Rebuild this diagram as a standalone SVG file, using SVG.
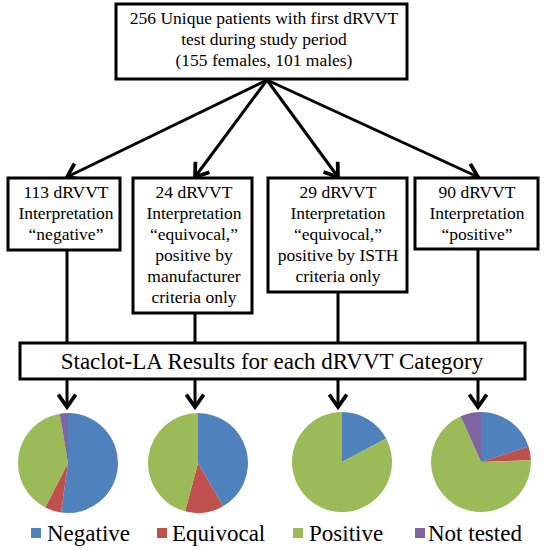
<svg xmlns="http://www.w3.org/2000/svg" width="550" height="550" viewBox="0 0 550 550">
<defs>
<style>
.box{fill:#fff;stroke:#000;stroke-width:3}
.t{font-size:17.5px;fill:#000;text-anchor:middle}
.big{font-size:23px;fill:#000}
.c{fill:none;stroke:#000;stroke-width:3}
.neg{fill:#4F81BD}.eq{fill:#C0504D}.pos{fill:#9BBB59}.nt{fill:#8064A2}
</style>
<marker id="ah" markerUnits="userSpaceOnUse" markerWidth="20" markerHeight="20" viewBox="-12 -8 14 16" refX="0" refY="0" orient="auto">
<path d="M-10,-7 L0,0 L-10,7" fill="none" stroke="#000" stroke-width="3"/>
</marker>
</defs>
<rect width="550" height="550" fill="#fff"/>
<g id="connectors">
<line class="c" x1="267" y1="80" x2="67" y2="177" marker-end="url(#ah)"/>
<line class="c" x1="267" y1="80" x2="195" y2="177" marker-end="url(#ah)"/>
<line class="c" x1="267" y1="80" x2="338" y2="177" marker-end="url(#ah)"/>
<line class="c" x1="267" y1="80" x2="478" y2="177" marker-end="url(#ah)"/>
<line class="c" x1="67" y1="250" x2="67" y2="343"/>
<line class="c" x1="195" y1="313" x2="195" y2="343"/>
<line class="c" x1="338" y1="292" x2="338" y2="343"/>
<line class="c" x1="478" y1="249" x2="478" y2="343"/>
<line class="c" x1="67" y1="379" x2="67" y2="407" marker-end="url(#ah)"/>
<line class="c" x1="195" y1="379" x2="195" y2="407" marker-end="url(#ah)"/>
<line class="c" x1="338" y1="379" x2="338" y2="407" marker-end="url(#ah)"/>
<line class="c" x1="478" y1="379" x2="478" y2="407" marker-end="url(#ah)"/>
</g>
<g font-family="Liberation Serif, Times New Roman, FreeSerif, Nimbus Roman, DejaVu Serif, serif">
<g id="top">
<rect class="box" x="116" y="4" width="291" height="75"/>
<text class="t" x="264" y="24">256 Unique patients with first dRVVT</text>
<text class="t" x="264" y="45">test during study period</text>
<text class="t" x="264" y="66">(155 females, 101 males)</text>
</g>
<g id="neg">
<rect class="box" x="8" y="178" width="112" height="72"/>
<text class="t" x="66" y="198">113 dRVVT</text>
<text class="t" x="66" y="219">Interpretation</text>
<text class="t" x="66" y="240">“negative”</text>
</g>
<g id="eqmfr">
<rect class="box" x="133" y="178" width="119" height="135"/>
<text class="t" x="194" y="198">24 dRVVT</text>
<text class="t" x="194" y="219">Interpretation</text>
<text class="t" x="194" y="240">“equivocal,”</text>
<text class="t" x="194" y="261">positive by</text>
<text class="t" x="194" y="282">manufacturer</text>
<text class="t" x="194" y="303">criteria only</text>
</g>
<g id="eqisth">
<rect class="box" x="268" y="178" width="139" height="114"/>
<text class="t" x="338" y="198">29 dRVVT</text>
<text class="t" x="338" y="219">Interpretation</text>
<text class="t" x="338" y="240">“equivocal,”</text>
<text class="t" x="338" y="261">positive by ISTH</text>
<text class="t" x="338" y="282">criteria only</text>
</g>
<g id="pos">
<rect class="box" x="415" y="178" width="123" height="71"/>
<text class="t" x="477" y="198">90 dRVVT</text>
<text class="t" x="477" y="219">Interpretation</text>
<text class="t" x="477" y="240">“positive”</text>
</g>
<g id="staclot">
<rect class="box" x="20" y="343" width="505" height="36"/>
<text class="big" x="272" y="369" text-anchor="middle">Staclot-LA Results for each dRVVT Category</text>
</g>
<g id="legend">
<rect class="neg" x="31" y="528" width="10" height="10"/>
<text class="big" x="47" y="541">Negative</text>
<rect class="eq" x="157" y="528" width="10" height="10"/>
<text class="big" x="172" y="541">Equivocal</text>
<rect class="pos" x="293" y="528" width="10" height="10"/>
<text class="big" x="309" y="541">Positive</text>
<rect class="nt" x="415" y="528" width="10" height="10"/>
<text class="big" x="428" y="541">Not tested</text>
</g>
</g>
<g id="pie1">
<path class="neg" d="M68,463 L68,413 A50,50 0 1,1 61.08,512.52 Z"/>
<path class="eq" d="M68,463 L61.08,512.52 A50,50 0 0,1 45.24,507.52 Z"/>
<path class="pos" d="M68,463 L45.24,507.52 A50,50 0 0,1 59.70,413.69 Z"/>
<path class="nt" d="M68,463 L59.70,413.69 A50,50 0 0,1 68,413 Z"/>
</g>
<g id="pie2">
<path class="neg" d="M198,463 L198,413 A50,50 0 0,1 223,506.30 Z"/>
<path class="eq" d="M198,463 L223,506.30 A50,50 0 0,1 185.06,511.30 Z"/>
<path class="pos" d="M198,463 L185.06,511.30 A50,50 0 0,1 198,413 Z"/>
</g>
<g id="pie3">
<path class="neg" d="M342,462 L342,412 A50,50 0 0,1 386.19,438.60 Z"/>
<path class="pos" d="M342,462 L386.19,438.60 A50,50 0 1,1 342,412 Z"/>
</g>
<g id="pie4">
<path class="neg" d="M481,462 L481,412 A50,50 0 0,1 528.55,446.55 Z"/>
<path class="eq" d="M481,462 L528.55,446.55 A50,50 0 0,1 530.97,460.25 Z"/>
<path class="pos" d="M481,462 L530.97,460.25 A50,50 0 1,1 460.66,416.32 Z"/>
<path class="nt" d="M481,462 L460.66,416.32 A50,50 0 0,1 481,412 Z"/>
</g>
</svg>
